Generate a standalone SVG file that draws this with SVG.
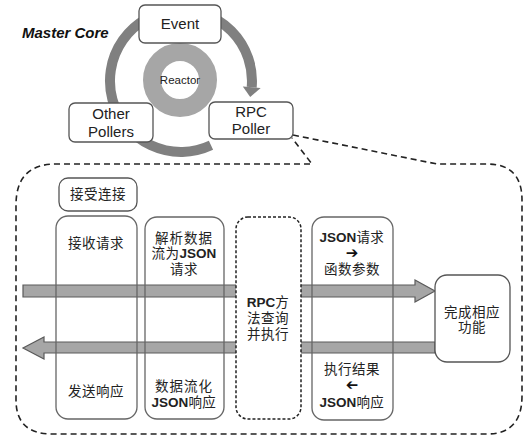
<svg xmlns="http://www.w3.org/2000/svg" width="531" height="441" viewBox="0 0 531 441">
<style>
.box{fill:#fff;stroke:#555;stroke-width:1.3}
.col{fill:none;stroke:#666;stroke-width:1.3}
.en{font-family:"Liberation Sans",Arial,sans-serif;font-size:15px;fill:#222;text-anchor:middle}
.zh{font-family:"Liberation Sans","Noto Sans CJK SC",sans-serif;font-size:13.5px;fill:#222;text-anchor:middle;letter-spacing:0.5px}
.ar{font-family:"DejaVu Sans",sans-serif;font-size:15px;font-weight:bold;fill:#111;text-anchor:middle}
.b{font-weight:bold;letter-spacing:0}
.dash{fill:none;stroke:#222;stroke-width:1.6;stroke-dasharray:6 4}
.arrow{fill:#a6a6a6;stroke:#5a5a5a;stroke-width:1.2}
</style>
<rect width="531" height="441" fill="#fff"/>
<text x="22" y="38" font-family="Liberation Sans,Arial,sans-serif" font-size="15" font-weight="bold" font-style="italic" fill="#111">Master Core</text>
<g id="connectors">
<path d="M211,145.3 A71,71 0 1 1 251.7,87.2" fill="none" stroke="#808080" stroke-width="10"/>
<polygon points="260.7,88 242.8,86.4 250.2,97" fill="#808080"/>
<path class="dash" d="M293,135 L437,164 L487,164 Q522,164 522,200 L522,396 Q522,434 487,434 L52,434 Q16,434 16,400 L16,205 Q16,164 56,164 L312,164 L292,138"/>
<polygon class="arrow" points="23,285 415,285 415,280 435,291 415,302 415,297 23,297"/>
<polygon class="arrow" points="435,342 44,342 44,337 23,348 44,359 44,353 435,353"/>
</g>
<g id="reactor">
<circle cx="180" cy="80" r="28" fill="none" stroke="#a6a6a6" stroke-width="18"/>
<text class="en" x="180" y="84" style="font-size:11.5px">Reactor</text>
</g>
<g id="event"><rect class="box" x="139" y="5" width="82" height="38" rx="6"/><text class="en" x="180" y="29">Event</text></g>
<g id="other-pollers"><rect class="box" x="69" y="103" width="84" height="39" rx="6"/><text class="en" x="111" y="119">Other</text><text class="en" x="111" y="137">Pollers</text></g>
<g id="rpc-poller"><rect class="box" x="209" y="102" width="84" height="37" rx="6"/><text class="en" x="251" y="117">RPC</text><text class="en" x="251" y="134">Poller</text></g>
<g id="accept"><rect class="box" x="59" y="178" width="78" height="33" rx="9"/><text class="zh" x="98" y="199">接受连接</text></g>
<g id="col1"><rect class="col" x="56" y="216" width="81" height="203" rx="12"/><text class="zh" x="96" y="248">接收请求</text><text class="zh" x="96" y="396">发送响应</text></g>
<g id="col2"><rect class="col" x="145" y="217" width="79" height="202" rx="12"/>
<text class="zh" x="184" y="243" style="letter-spacing:1px">解析数据</text>
<text class="zh" x="184" y="258">流为<tspan class="b">JSON</tspan></text>
<text class="zh" x="184" y="274">请求</text>
<text class="zh" x="184" y="391" style="letter-spacing:1px">数据流化</text>
<text class="zh" x="184" y="407"><tspan class="b">JSON</tspan>响应</text></g>
<g id="rpc-exec"><rect x="236" y="217" width="65" height="202" rx="12" fill="#fff" stroke="#222" stroke-width="1.5" stroke-dasharray="3 2"/>
<text class="zh" x="268" y="307"><tspan class="b">RPC</tspan>方</text>
<text class="zh" x="268" y="323">法查询</text>
<text class="zh" x="268" y="339">并执行</text></g>
<g id="col4"><rect class="col" x="312" y="217" width="81" height="203" rx="12"/>
<text class="zh" x="352" y="242"><tspan class="b">JSON</tspan>请求</text>
<text class="ar" x="352" y="258">➔</text>
<text class="zh" x="352" y="274">函数参数</text>
<text class="zh" x="352" y="374">执行结果</text>
<text class="ar" x="-352" y="390" transform="scale(-1,1)">➔</text>
<text class="zh" x="352" y="407"><tspan class="b">JSON</tspan>响应</text></g>
<g id="finish"><rect class="box" x="435" y="275" width="75" height="87" rx="12"/><text class="zh" x="472" y="317">完成相应</text><text class="zh" x="472" y="332">功能</text></g>
</svg>
